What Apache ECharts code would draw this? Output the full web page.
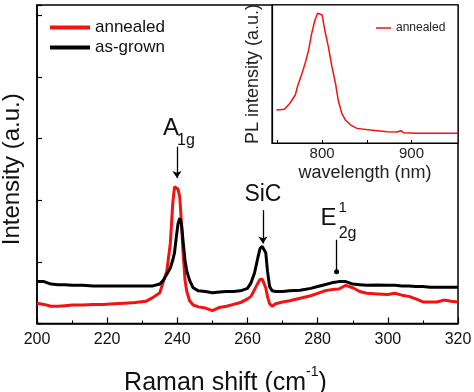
<!DOCTYPE html>
<html><head><meta charset="utf-8">
<script src="https://cdn.jsdelivr.net/npm/echarts@6/dist/echarts.min.js"></script>
<style>html,body{margin:0;padding:0;background:#fff}#c{width:474px;height:392px}</style>
</head><body><div id="c"></div>
<script>
// ---- main Raman data ----
const ramanShift = [200,202,204,206,208,210,213,216,219,222,225,228,231,233,235,236,237,238,238.7,239.2,239.7,240.2,240.7,241.2,241.7,242.2,242.7,243.5,244.5,246,248,250,252,254,256,258,260,261,262,263,263.6,264.2,264.7,265.2,265.7,266.3,267,268,270,272,275,278,280,282,284,286,288,290,292,294,297,300,302,304,306,308,310,312,314,316,318,320];
const annealed = [0.33,0.31,0.28,0.28,0.29,0.30,0.30,0.31,0.31,0.32,0.33,0.34,0.36,0.42,0.50,0.68,0.85,1.30,1.95,2.22,2.22,2.18,2.05,1.60,1.10,0.70,0.52,0.37,0.30,0.27,0.25,0.21,0.26,0.28,0.31,0.34,0.40,0.44,0.55,0.66,0.72,0.72,0.69,0.58,0.44,0.32,0.28,0.32,0.35,0.37,0.41,0.45,0.49,0.53,0.55,0.56,0.62,0.58,0.52,0.49,0.48,0.47,0.49,0.46,0.44,0.40,0.35,0.35,0.35,0.38,0.36,0.35];
const asGrown = [0.68,0.68,0.64,0.63,0.63,0.62,0.62,0.61,0.61,0.61,0.61,0.61,0.61,0.61,0.64,0.70,0.80,0.90,1.03,1.15,1.40,1.62,1.71,1.60,1.30,1.02,0.85,0.70,0.58,0.53,0.52,0.50,0.51,0.52,0.52,0.53,0.57,0.66,0.82,1.08,1.22,1.25,1.27,1.15,0.85,0.60,0.53,0.52,0.52,0.53,0.54,0.57,0.60,0.63,0.66,0.68,0.68,0.64,0.63,0.62,0.625,0.62,0.62,0.61,0.61,0.60,0.60,0.59,0.59,0.59,0.59,0.59];
const ramanTickLabels = [200,220,240,260,280,300,320];

// ---- inset PL data ----
const wavelength = [749,758,764,770,773,777,781,785,788,792,795,797,800,803,807,811,815,818,822,826,832,839,854,873,884,888,891,906,952];
const plIntensity = [0.239,0.244,0.288,0.348,0.420,0.493,0.577,0.674,0.783,0.891,0.940,0.944,0.928,0.819,0.698,0.553,0.432,0.312,0.215,0.167,0.130,0.106,0.094,0.082,0.080,0.089,0.075,0.070,0.070];
const plTicks = [750,800,850,900];
const plTickLabels = [800,900];

// ---- peak annotations (data coordinates) ----
const peakX = [239.9, 264.4, 285.4];
const arrowTop = [2.87, 1.84, 1.36];
const arrowEnd = [2.36, 1.30, 0.84];

const FONT = 'Liberation Sans, Arial, sans-serif';
const zip = (a, b) => a.map((v, i) => [v, b[i]]);

function txt(coord, text, size, offset) {
  return {
    coord: coord, symbolSize: 0, itemStyle: {color: 'rgba(0,0,0,0)'},
    label: {show: true, position: 'inside', formatter: text, fontSize: size,
            color: '#111', fontFamily: FONT, offset: offset}
  };
}

const chart = echarts.init(document.getElementById('c'), null, {renderer: 'canvas'});
chart.setOption({
  animation: false,
  backgroundColor: '#fff',
  grid: [
    {left: 37, right: 16, top: 5, bottom: 68.5, show: true, borderColor: '#000', borderWidth: 1.5,
     containLabel: false, outerBoundsMode: 'none'},
    {left: 272, right: 16, top: 5, bottom: 249, show: true, borderColor: '#000', borderWidth: 1.2,
     backgroundColor: '#fff', z: 3, containLabel: false, outerBoundsMode: 'none'}
  ],
  legend: [
    {data: ['annealed', 'as-grown'], orient: 'vertical', left: 50, top: 19, padding: 0,
     itemWidth: 40, itemHeight: 4, itemGap: 3, icon: 'rect',
     textStyle: {fontSize: 17, fontFamily: FONT, color: '#111'}},
    {data: ['annealed PL'], left: 376, top: 22, padding: 0, itemWidth: 15, itemHeight: 1.5, icon: 'rect',
     formatter: () => 'annealed', textStyle: {fontSize: 12, fontFamily: FONT, color: '#222'}, z: 5}
  ],
  xAxis: [
    {type: 'value', gridIndex: 0, min: 200, max: 320, interval: 20,
     axisLine: {lineStyle: {color: '#000', width: 1.5}},
     axisTick: {inside: true, length: 6, lineStyle: {color: '#000', width: 1.2}},
     minorTick: {show: true, splitNumber: 2, length: 3, lineStyle: {color: '#000', width: 1}},
     axisLabel: {fontSize: 16, color: '#111', fontFamily: FONT, margin: 8,
                 customValues: ramanTickLabels},
     splitLine: {show: false},
     name: '{a|Raman shift (cm}{s|-1}{a|)}', nameLocation: 'middle', nameGap: 42,
     nameTextStyle: {padding: [0, 44, 0, 0], rich: {
       a: {fontSize: 25, fontFamily: FONT, color: '#111', lineHeight: 30, verticalAlign: 'bottom'},
       s: {fontSize: 14, fontFamily: FONT, color: '#111', lineHeight: 24, verticalAlign: 'top'}
     }}},
    {type: 'value', gridIndex: 1, min: 744, max: 952,
     axisLine: {lineStyle: {color: '#000', width: 1.2}},
     axisTick: {inside: true, length: 3, customValues: plTicks, lineStyle: {color: '#000', width: 1}},
     axisLabel: {fontSize: 15, color: '#222', fontFamily: FONT, margin: 3, customValues: plTickLabels},
     splitLine: {show: false},
     name: 'wavelength (nm)', nameLocation: 'middle', nameGap: 21,
     nameTextStyle: {fontSize: 18, fontFamily: FONT, color: '#222'}, z: 5}
  ],
  yAxis: [
    {type: 'value', gridIndex: 0, min: 0, max: 5.17, interval: 1,
     axisLine: {lineStyle: {color: '#000', width: 1.5}},
     axisTick: {inside: true, length: 5, lineStyle: {color: '#000', width: 1.2}},
     axisLabel: {show: false}, splitLine: {show: false},
     name: 'Intensity (a.u.)', nameLocation: 'middle', nameGap: 13, nameRotate: 90,
     nameTextStyle: {fontSize: 24, fontFamily: FONT, color: '#111', padding: [0, 10, 0, 0]}},
    {type: 'value', gridIndex: 1, min: 0, max: 1,
     axisLine: {lineStyle: {color: '#000', width: 1.2}},
     axisTick: {show: false}, axisLabel: {show: false}, splitLine: {show: false},
     name: 'PL intensity (a.u.)', nameLocation: 'middle', nameGap: 10, nameRotate: 90,
     nameTextStyle: {fontSize: 18, fontFamily: FONT, color: '#222'}, z: 5}
  ],
  series: [
    {name: 'annealed', type: 'line', xAxisIndex: 0, yAxisIndex: 0, data: zip(ramanShift, annealed),
     showSymbol: false, lineStyle: {color: '#f21212', width: 3}, itemStyle: {color: '#f21212'}, z: 2},
    {name: 'as-grown', type: 'line', xAxisIndex: 0, yAxisIndex: 0, data: zip(ramanShift, asGrown),
     showSymbol: false, lineStyle: {color: '#000', width: 3}, itemStyle: {color: '#000'}, z: 3,
     markLine: {silent: true, animation: false, label: {show: false},
       lineStyle: {color: '#000', width: 1.3, type: 'solid'}, emphasis: {disabled: true},
       data: [
         [{coord: [peakX[0], arrowTop[0]], symbol: 'none'}, {coord: [peakX[0], arrowEnd[0]], symbol: 'arrow', symbolSize: 7}],
         [{coord: [peakX[1], arrowTop[1]], symbol: 'none'}, {coord: [peakX[1], arrowEnd[1]], symbol: 'arrow', symbolSize: 7}],
         [{coord: [peakX[2], arrowTop[2]], symbol: 'none'}, {coord: [peakX[2], arrowEnd[2]], symbol: 'circle', symbolSize: 5}]
       ]},
     markPoint: {silent: true, animation: false,
       data: [
         txt([peakX[0], arrowTop[0]], 'A', 24, [-6, -18]),
         txt([peakX[0], arrowTop[0]], '1g', 16, [9, -6]),
         txt([peakX[1], arrowTop[1]], 'SiC', 23, [0, -15]),
         txt([peakX[2], arrowTop[2]], 'E', 24, [-8, -21]),
         txt([peakX[2], arrowTop[2]], '1', 15, [6, -32]),
         txt([peakX[2], arrowTop[2]], '2g', 16, [11, -6])
       ]}},
    {name: 'annealed PL', type: 'line', xAxisIndex: 1, yAxisIndex: 1, data: zip(wavelength, plIntensity),
     showSymbol: false, lineStyle: {color: '#f21212', width: 1.5}, itemStyle: {color: '#f21212'}, z: 5}
  ]
});
</script></body></html>
